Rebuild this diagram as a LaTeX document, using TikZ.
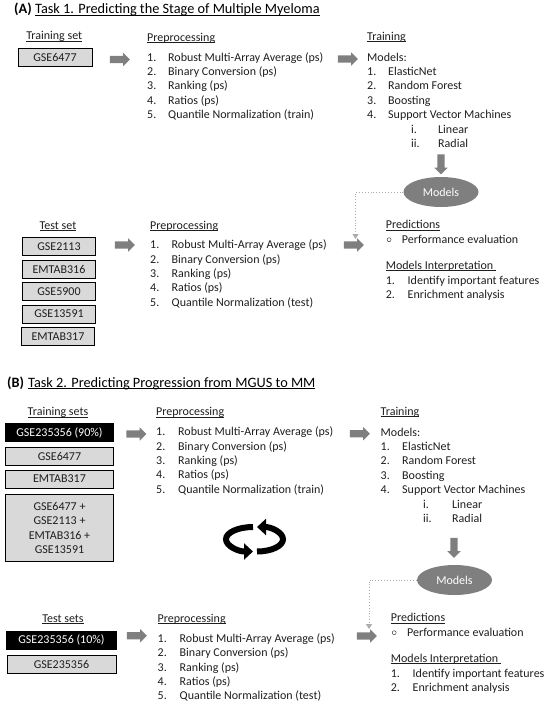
\documentclass[tikz,border=0pt]{standalone}
\usepackage{fontspec}
\setmainfont{Carlito}
\usepackage{xcolor}
\usetikzlibrary{shapes,arrows.meta,positioning}
\definecolor{boxgray}{HTML}{D9D9D9}
\definecolor{arrowgray}{HTML}{7F7F7F}
\definecolor{inkgray}{HTML}{1E1E1E}
\newcommand{\uline}[1]{\underline{\smash{#1}}}

\begin{document}
\begin{tikzpicture}[
    x=1pt, y=-1pt,
    every node/.style = {font=\fontsize{12pt}{14.4pt}\selectfont, text=inkgray},
    lbl/.style = {anchor=west, inner sep=0pt, text height=10pt, text depth=2pt},
    head/.style = {lbl, anchor=center},
    titlelbl/.style = {lbl, font=\fontsize{14.3pt}{16pt}\selectfont, text=black},
    setbox/.style = {draw=black, line width=1pt, fill=boxgray, inner sep=0pt, align=center, minimum width=#1, minimum height=18pt},
    blackbox/.style = {fill=black, text=white, inner sep=0pt, minimum width=#1, minimum height=19pt},
    flow/.style = {single arrow, fill=arrowgray, draw=none, inner sep=3.5pt, minimum height=20pt, minimum width=13pt, single arrow head extend=3pt, single arrow head indent=0pt},
    models/.style = {ellipse, fill=arrowgray, text=white, inner sep=0pt, minimum width=75pt, minimum height=30pt},
    dots/.style = {draw=gray!65, dotted, line width=0.9pt, -{Triangle[length=5pt,width=6pt]}},
    cycle/.style = {line width=6pt, -{Triangle[length=9pt,width=16pt]}}
  ]
  \useasboundingbox (0,0) rectangle (550,707);

  % titles
  \node[titlelbl] (titlea) at (14,9.5) {\textbf{(A)}};
  \node[titlelbl] (taska) at (35,9.5) {\uline{Task 1. Predicting the Stage of Multiple Myeloma}};
  \node[titlelbl] (titleb) at (7,383) {\textbf{(B)}};
  \node[titlelbl] (taskb) at (28,383) {\uline{Task 2. Predicting Progression from MGUS to MM}};

  % data sets
  \node[head] (traina) at (54.3,35.5) {\uline{Training set}};
  \node[setbox=74pt] (gsea) at (55,57.5) {GSE6477};
  \node[head] (testa) at (58,225) {\uline{Test set}};
  \node[setbox=73pt] (seta1) at (59,246.5) {GSE2113};
  \node[setbox=73pt] (seta2) at (59,269) {EMTAB316};
  \node[setbox=73pt] (seta3) at (59,291.5) {GSE5900};
  \node[setbox=73pt] (seta4) at (59,314) {GSE13591};
  \node[setbox=73pt] (seta5) at (58,336.5) {EMTAB317};
  \node[head] (trainb) at (58,411.5) {\uline{Training sets}};
  \node[blackbox=109pt] (setb1) at (59.5,432.5) {GSE235356 (90\%)};
  \node[setbox=108pt] (setb2) at (59.5,456) {GSE6477};
  \node[setbox=108pt] (setb3) at (59.5,479) {EMTAB317};
  \node[setbox=108pt, minimum height=67pt] (setb4) at (59.5,528) {GSE6477 +\\GSE2113 +\\EMTAB316 +\\GSE13591};
  \node[head] (testb) at (63,618) {\uline{Test sets}};
  \node[blackbox=111pt] (setb5) at (61.5,640) {GSE235356 (10\%)};
  \node[setbox=109pt] (setb6) at (61.5,664) {GSE235356};

  % preprocessing
  \foreach \p/\xa/\xb/\yh/\ya/\last in {a/147/168/37/57/train, c/150/171.5/225/244.7/test, e/156/178/411.5/431.7/train, g/157.5/179.5/618/638.3/test} {
    \node[lbl] (prep\p) at (\xa,\yh) {\uline{Preprocessing}};
    \foreach \n/\txt in {1/Robust Multi-Array Average (ps), 2/Binary Conversion (ps), 3/Ranking (ps), 4/Ratios (ps), 5/Quantile Normalization (\last)} {
      \node[lbl] (prep\p n\n) at (\xa,\ya+14.4*\n-14.4) {\n.};
      \node[lbl] (prep\p t\n) at (\xb,\ya+14.4*\n-14.4) {\txt};
    }
  }

  % training
  \foreach \p/\xa/\xb/\xc/\xd/\yh/\ya in {a/367/388/411/438/36/57, b/380.5/402/423/452/411/432} {
    \node[lbl] (fit\p) at (\xa,\yh) {\uline{Training}};
    \node[lbl] (fit\p m) at (\xa,\ya) {Models:};
    \foreach \n/\txt in {1/ElasticNet, 2/Random Forest, 3/Boosting, 4/Support Vector Machines} {
      \node[lbl] (fit\p n\n) at (\xa,\ya+14.4*\n) {\n.};
      \node[lbl] (fit\p t\n) at (\xb,\ya+14.4*\n) {\txt};
    }
    \node[lbl] (fit\p i) at (\xc,\ya+72) {i.};
    \node[lbl] (fit\p l) at (\xd,\ya+72) {Linear};
    \node[lbl] (fit\p ii) at (\xc,\ya+86.4) {ii.};
    \node[lbl] (fit\p r) at (\xd,\ya+86.4) {Radial};
  }

  % predictions
  \foreach \p/\xa/\xb/\xc/\ya in {a/385.6/401.7/407.5/224.7, b/390.7/407/412.5/617.7} {
    \node[lbl] (pred\p) at (\xa,\ya) {\uline{Predictions}};
    \node[draw=inkgray, circle, inner sep=0pt, minimum size=4pt] (pred\p o) at (\xa+3.5,\ya+15) {};
    \node[lbl] (pred\p t) at (\xb,\ya+15) {Performance evaluation};
    \node[lbl] (inter\p) at (\xa,\ya+40.5) {\uline{Models Interpretation\ }};
    \node[lbl] (inter\p n1) at (\xa,\ya+55.5) {1.};
    \node[lbl] (inter\p t1) at (\xc,\ya+55.5) {Identify important features};
    \node[lbl] (inter\p n2) at (\xa,\ya+70) {2.};
    \node[lbl] (inter\p t2) at (\xc,\ya+70) {Enrichment analysis};
  }

  % block arrows
  \node[flow] (flowa1) at (118,59.5) {};
  \node[flow] (flowa2) at (346,59) {};
  \node[flow] (flowa3) at (123,245) {};
  \node[flow] (flowa4) at (352,245) {};
  \node[flow, rotate=-90] (flowa5) at (441,162.5) {};
  \node[flow] (flowb1) at (134.5,434) {};
  \node[flow] (flowb2) at (358,433.7) {};
  \node[flow] (flowb3) at (135,635.7) {};
  \node[flow] (flowb4) at (365,636) {};
  \node[flow, rotate=-90] (flowb5) at (454,546) {};

  % models and the dotted links
  \node[models] (modelsa) at (441,192) {Models};
  \node[models] (modelsb) at (454.5,580) {Models};
  \coordinate (tipa) at (355.5,239);
  \coordinate (tipb) at (369,629);
  \draw[dots] (modelsa.west) -| (tipa);
  \draw[dots] (modelsb.west) -| (tipb);

  % loop
  \coordinate (cyca) at (253,527);
  \coordinate (cycb) at (257,551.5);
  \draw[cycle] (cyca) arc[start angle=90, delta angle=180, x radius=27pt, y radius=12.25pt];
  \draw[cycle] (cycb) arc[start angle=-90, delta angle=180, x radius=26pt, y radius=12.25pt];
\end{tikzpicture}
\end{document}
